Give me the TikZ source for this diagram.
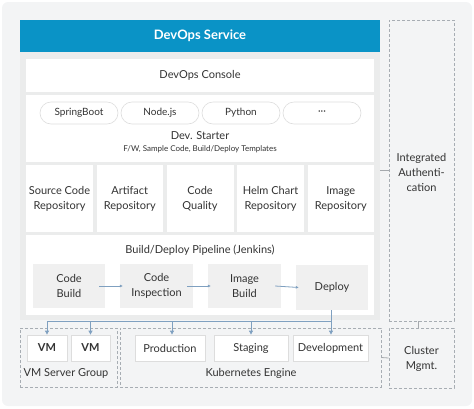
\documentclass[tikz,border=0pt]{standalone}
\usepackage{fontspec}
\setmainfont{Lato}
\usetikzlibrary{arrows.meta}
\definecolor{bgc}{HTML}{F3F4F5}
\definecolor{hdr}{HTML}{0A93C6}
\definecolor{panelc}{HTML}{EBECEC}
\definecolor{stagec}{HTML}{F0F0F0}
\definecolor{txt}{HTML}{333333}
\definecolor{dashc}{HTML}{A7ADB3}
\definecolor{connc}{HTML}{7FA0C0}
\definecolor{glc}{HTML}{A5A9AD}
\definecolor{bordc}{HTML}{DDDDDD}
\newcommand\bx[7]{\pgfmathsetmacro\bw{#4-#2}\pgfmathsetmacro\bh{#5-#3}%
  \node[#6, minimum width=\bw pt, minimum height=\bh pt, inner sep=0pt, align=center] (#1) at ({(#2+#4)/2},{(#3+#5)/2}) {#7};}
\tikzset{
  whitebox/.style={fill=white, text=txt, font=\fontsize{11}{15}\selectfont},
  pill/.style={fill=white, draw=bordc, line width=0.6pt, rounded corners=11pt, text=txt, font=\fontsize{10}{12}\selectfont},
  stagebox/.style={fill=stagec, text=txt, font=\fontsize{11}{15}\selectfont},
  dashbox/.style={draw=dashc, dashed, dash pattern=on 3pt off 2pt, line width=0.8pt},
  envbox/.style={fill=white, draw=bordc, line width=0.8pt, text=txt, font=\fontsize{11}{13}\selectfont},
  lbl/.style={text=txt, font=\fontsize{11}{15}\selectfont, inner sep=0pt, align=center},
  conn/.style={draw=connc, line width=0.8pt},
  connar/.style={draw=connc, line width=0.8pt, -{Triangle[length=4pt,width=4pt]}},
  gline/.style={draw=glc, line width=0.8pt},
}
\begin{document}
\begin{tikzpicture}[x=1pt,y=-1pt]
\useasboundingbox (0,0) rectangle (474,408);
\fill[bgc, rounded corners=6pt] (2,2) rectangle (472,406);
% main panel
\bx{panel}{20}{52}{380}{320}{fill=panelc}{}
\bx{svc}{20}{20}{380}{52}{fill=hdr, text=white, font=\bfseries\fontsize{13}{15}\selectfont}{DevOps Service}
\bx{console}{26}{59}{374}{92}{whitebox}{DevOps Console}
\bx{starter}{26}{95}{374}{162}{whitebox}{}
\bx{p1}{40}{102}{118}{124}{pill}{SpringBoot}
\bx{p2}{121}{102}{199}{124}{pill}{Node.js}
\bx{p3}{202}{102}{280}{124}{pill}{Python}
\bx{p4}{283}{102}{361}{124}{pill}{\textperiodcentered\textperiodcentered\textperiodcentered}
\node[lbl] (devst) at (200,136) {Dev. Starter};
\node[lbl, font=\fontsize{8}{10}\selectfont] (devsub) at (200,149) {F/W, Sample Code, Build/Deploy Templates};
% repositories
\bx{r1}{26}{165}{93}{232}{whitebox}{Source Code\\Repository}
\bx{r2}{96.5}{165}{163}{232}{whitebox}{Artifact\\Repository}
\bx{r3}{166.5}{165}{233.5}{232}{whitebox}{Code\\Quality}
\bx{r4}{237}{165}{304}{232}{whitebox}{Helm Chart\\Repository}
\bx{r5}{307.5}{165}{374}{232}{whitebox}{Image\\Repository}
% pipeline
\bx{pipe}{26}{235}{374}{315}{whitebox}{}
\node[lbl] (pipet) at (200,250) {Build/Deploy Pipeline (Jenkins)};
\bx{cb}{33}{264}{105}{308}{stagebox}{Code\\Build}
\bx{ci}{120}{264}{193}{308}{stagebox}{Code\\Inspection}
\bx{ib}{208}{264}{281}{308}{stagebox}{Image\\Build}
\bx{dp}{296}{265}{368}{310}{stagebox}{Deploy}
\draw[connar, -{Latex[length=3pt,width=3pt]}] ([xshift=-6pt]cb.east) -- ([xshift=3pt]ci.west);
\draw[connar, -{Latex[length=3pt,width=3pt]}] ([xshift=-6pt]ci.east) -- ([xshift=3pt]ib.west);
\draw[connar, -{Latex[length=3pt,width=3pt]}] ([xshift=-6pt]ib.east) -- ([xshift=3pt]dp.west);
% side boxes
\bx{auth}{389}{20}{454}{321}{dashbox}{}
\node[lbl] (autht) at (421.5,172) {Integrated\\Authenti-\\cation};
\bx{clu}{389}{328}{454}{388}{dashbox}{}
\node[lbl] (clut) at (421.5,358.5) {Cluster\\Mgmt.};
% bottom groups
\bx{vmg}{20}{328}{117}{387}{dashbox}{}
\bx{kube}{120}{328}{381}{387}{dashbox}{}
\bx{vm1}{27}{335}{67}{361}{envbox, font=\bfseries\fontsize{11}{13}\selectfont}{VM}
\bx{vm2}{71}{335}{110}{361}{envbox, font=\bfseries\fontsize{11}{13}\selectfont}{VM}
\node[lbl] (vmgt) at (66,373) {VM Server Group};
\bx{prod}{135}{335}{205}{361}{envbox}{Production}
\bx{stg}{214}{335}{288}{361}{envbox}{Staging}
\bx{dev}{293}{335}{368}{361}{envbox}{Development}
\node[lbl] (kubet) at (251,373) {Kubernetes Engine};
% gray links
\draw[gline] (panel.east |- auth.west) -- (auth.west);
\draw[gline] ([xshift=-3.5pt]auth.south) -- ([xshift=-3.5pt]clu.north);
\draw[gline] (kube.east) -- (clu.west);
% deploy bus
\coordinate (busR) at (331,321);
\coordinate (busL) at (47,321);
\draw[conn] (dp.south -| busR) -- (busR) -- (busL);
\draw[connar] (busL) -- (vm1.north);
\draw[connar] (vm2.north |- busR) -- (vm2.north);
\draw[connar] (172,321) -- (prod.north -| 172,0);
\draw[connar] (stg.north |- busR) -- (stg.north);
\draw[connar] (busR) -- (dev.north -| busR);
\end{tikzpicture}
\end{document}
